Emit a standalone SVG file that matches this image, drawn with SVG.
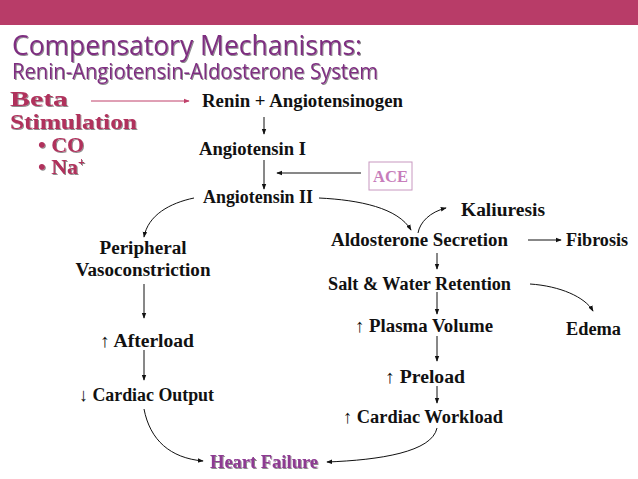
<svg xmlns="http://www.w3.org/2000/svg" width="638" height="479" viewBox="0 0 638 479">
<style>
.t{font-family:"Liberation Serif","DejaVu Serif",serif;font-weight:bold;font-size:18.5px;fill:#111}
.ttl{font-family:"Open Sans","Liberation Sans",sans-serif;fill:#7E2E80}
.beta{font-family:"Liberation Serif",serif;font-weight:bold;font-size:22px;fill:#B0305C}
.hf{font-family:"Liberation Serif",serif;font-weight:bold;font-size:18.5px;fill:#8E3A92}
.c{fill:none;stroke:#111;stroke-width:1}
</style>
<defs>
<marker id="ah" viewBox="0 0 8 8" refX="7" refY="4" markerWidth="6" markerHeight="6" orient="auto" markerUnits="userSpaceOnUse"><path d="M0,1 L8,4 L0,7 Z" fill="#111"/></marker>
<marker id="ahp" viewBox="0 0 8 8" refX="7" refY="4" markerWidth="6" markerHeight="6" orient="auto" markerUnits="userSpaceOnUse"><path d="M0,1 L8,4 L0,7 Z" fill="#C0406A"/></marker>
<filter id="sh" x="-5%" y="-20%" width="110%" height="140%"><feDropShadow dx="1" dy="1" stdDeviation="0.6" flood-color="#000" flood-opacity="0.45"/></filter>
</defs>
<rect x="0" y="0" width="638" height="25" fill="#B83C68"/>
<g id="title" filter="url(#sh)">
<text class="ttl" x="12" y="55" font-size="28" textLength="350" lengthAdjust="spacingAndGlyphs">Compensatory Mechanisms:</text>
<text class="ttl" x="12" y="79" font-size="21" textLength="366" lengthAdjust="spacingAndGlyphs">Renin-Angiotensin-Aldosterone System</text>
</g>
<g id="beta" filter="url(#sh)">
<text class="beta" x="10" y="106" textLength="58" lengthAdjust="spacingAndGlyphs">Beta</text>
<text class="beta" x="10" y="129" textLength="127" lengthAdjust="spacingAndGlyphs">Stimulation</text>
<text class="beta" x="38" y="152">• CO</text>
<text class="beta" x="38" y="174">• Na<tspan font-size="12" dy="-8">+</tspan></text>
</g>
<g id="renin"><text class="t" x="202" y="107" textLength="201" lengthAdjust="spacingAndGlyphs">Renin + Angiotensinogen</text></g>
<g id="ang1"><text class="t" x="199" y="155" textLength="107" lengthAdjust="spacingAndGlyphs">Angiotensin I</text></g>
<g id="ace"><rect x="369" y="162" width="43" height="28" fill="#fff" stroke="#C898C0" stroke-width="1"/><text x="390.5" y="182" text-anchor="middle" font-family="Liberation Serif,serif" font-weight="bold" font-size="16.5" fill="#C77DBB">ACE</text></g>
<g id="ang2"><text class="t" x="203" y="203" textLength="110" lengthAdjust="spacingAndGlyphs">Angiotensin II</text></g>
<g id="kaliuresis"><text class="t" x="461" y="216" textLength="84" lengthAdjust="spacingAndGlyphs">Kaliuresis</text></g>
<g id="aldo"><text class="t" x="331" y="246" textLength="177" lengthAdjust="spacingAndGlyphs">Aldosterone Secretion</text></g>
<g id="fibrosis"><text class="t" x="566" y="246" textLength="62" lengthAdjust="spacingAndGlyphs">Fibrosis</text></g>
<g id="peripheral"><text class="t" x="143" y="254" text-anchor="middle" textLength="87" lengthAdjust="spacingAndGlyphs">Peripheral</text><text class="t" x="143" y="276" text-anchor="middle" textLength="135" lengthAdjust="spacingAndGlyphs">Vasoconstriction</text></g>
<g id="salt"><text class="t" x="328" y="290" textLength="183" lengthAdjust="spacingAndGlyphs">Salt &amp; Water Retention</text></g>
<g id="plasma"><text class="t" x="355" y="332" textLength="138" lengthAdjust="spacingAndGlyphs">↑ Plasma Volume</text></g>
<g id="edema"><text class="t" x="566" y="335" textLength="55" lengthAdjust="spacingAndGlyphs">Edema</text></g>
<g id="afterload"><text class="t" x="100" y="347" textLength="94" lengthAdjust="spacingAndGlyphs">↑ Afterload</text></g>
<g id="preload"><text class="t" x="385" y="383" textLength="80" lengthAdjust="spacingAndGlyphs">↑ Preload</text></g>
<g id="co"><text class="t" x="79" y="401" textLength="135" lengthAdjust="spacingAndGlyphs">↓ Cardiac Output</text></g>
<g id="workload"><text class="t" x="343" y="423" textLength="160" lengthAdjust="spacingAndGlyphs">↑ Cardiac Workload</text></g>
<g id="hf" filter="url(#sh)"><text class="hf" x="210" y="468" textLength="108" lengthAdjust="spacingAndGlyphs">Heart Failure</text></g>
<g id="connectors">
<path d="M91,101 L189,101" fill="none" stroke="#C0406A" stroke-width="1" marker-end="url(#ahp)"/>
<path class="c" d="M264,117 L264,134" marker-end="url(#ah)"/>
<path class="c" d="M264,160 L264,189" marker-end="url(#ah)"/>
<path class="c" d="M361,173 L277,173" marker-end="url(#ah)"/>
<path class="c" d="M194,198 C170,203 148,215 144,237" marker-end="url(#ah)"/>
<path class="c" d="M319,198 C360,200 398,208 411,230" marker-end="url(#ah)"/>
<path class="c" d="M418,233 C420,222 430,212 446,208" marker-end="url(#ah)"/>
<path class="c" d="M528,240 L561,240" marker-end="url(#ah)"/>
<path class="c" d="M437,253 L437,269" marker-end="url(#ah)"/>
<path class="c" d="M530,284 C560,286 585,297 593,311" marker-end="url(#ah)"/>
<path class="c" d="M437,292 L437,314" marker-end="url(#ah)"/>
<path class="c" d="M437,336 L437,361" marker-end="url(#ah)"/>
<path class="c" d="M437,386 L437,403" marker-end="url(#ah)"/>
<path class="c" d="M437,428 C432,452 380,460 327,462" marker-end="url(#ah)"/>
<path class="c" d="M144,284 L144,318" marker-end="url(#ah)"/>
<path class="c" d="M144,350 L144,380" marker-end="url(#ah)"/>
<path class="c" d="M144,409 C150,440 170,458 203,461" marker-end="url(#ah)"/>
</g>
</svg>
